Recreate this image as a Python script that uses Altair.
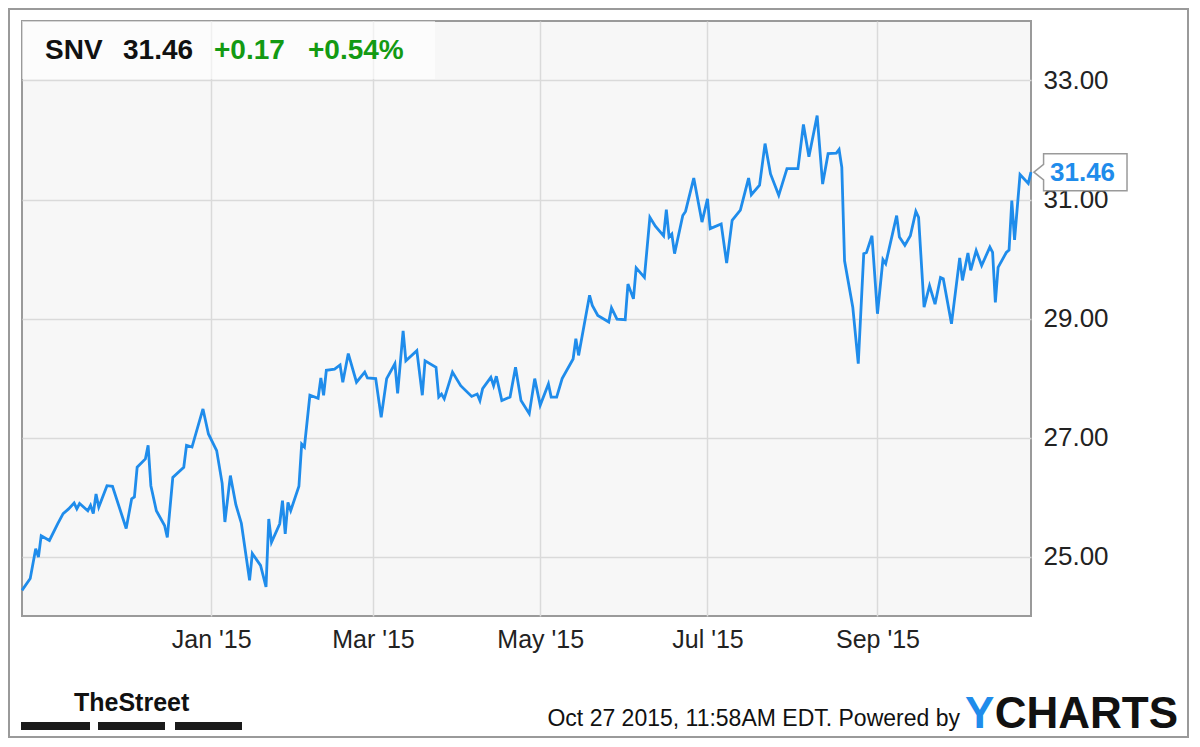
import altair as alt
import pandas as pd

# ---- data (SNV daily close, Oct 2014 - Oct 2015) ----
dates = [
    "2014-10-24", "2014-10-27", "2014-10-29", "2014-10-30", "2014-10-31",
    "2014-11-03", "2014-11-06", "2014-11-08", "2014-11-10", "2014-11-12",
    "2014-11-13", "2014-11-14", "2014-11-17", "2014-11-18", "2014-11-19",
    "2014-11-20", "2014-11-21", "2014-11-24", "2014-11-26", "2014-12-01",
    "2014-12-03", "2014-12-04", "2014-12-05", "2014-12-08", "2014-12-09",
    "2014-12-10", "2014-12-12", "2014-12-15", "2014-12-16", "2014-12-18",
    "2014-12-22", "2014-12-23", "2014-12-25", "2014-12-29", "2014-12-31",
    "2015-01-03", "2015-01-05", "2015-01-06", "2015-01-08", "2015-01-10",
    "2015-01-12", "2015-01-15", "2015-01-16", "2015-01-19", "2015-01-21",
    "2015-01-22", "2015-01-23", "2015-01-26", "2015-01-27", "2015-01-28",
    "2015-01-29", "2015-01-30", "2015-02-02", "2015-02-03", "2015-02-04",
    "2015-02-06", "2015-02-09", "2015-02-10", "2015-02-11", "2015-02-12",
    "2015-02-15", "2015-02-17", "2015-02-18", "2015-02-20", "2015-02-23",
    "2015-02-26", "2015-02-27", "2015-03-02", "2015-03-04", "2015-03-06",
    "2015-03-09", "2015-03-10", "2015-03-12", "2015-03-13", "2015-03-17",
    "2015-03-19", "2015-03-20", "2015-03-24", "2015-03-25", "2015-03-26",
    "2015-03-27", "2015-03-30", "2015-04-02", "2015-04-06", "2015-04-08",
    "2015-04-09", "2015-04-10", "2015-04-13", "2015-04-14", "2015-04-15",
    "2015-04-17", "2015-04-20", "2015-04-22", "2015-04-24", "2015-04-27",
    "2015-04-29", "2015-05-01", "2015-05-04", "2015-05-05", "2015-05-07",
    "2015-05-09", "2015-05-13", "2015-05-14", "2015-05-15", "2015-05-19",
    "2015-05-20", "2015-05-22", "2015-05-26", "2015-05-27", "2015-05-29",
    "2015-06-01", "2015-06-02", "2015-06-04", "2015-06-05", "2015-06-08",
    "2015-06-10", "2015-06-12", "2015-06-15", "2015-06-16", "2015-06-17",
    "2015-06-18", "2015-06-19", "2015-06-22", "2015-06-23", "2015-06-26",
    "2015-06-29", "2015-07-01", "2015-07-02", "2015-07-06", "2015-07-08",
    "2015-07-10", "2015-07-13", "2015-07-16", "2015-07-17", "2015-07-20",
    "2015-07-22", "2015-07-24", "2015-07-27", "2015-07-30", "2015-08-03",
    "2015-08-05", "2015-08-07", "2015-08-10", "2015-08-12", "2015-08-14",
    "2015-08-17", "2015-08-18", "2015-08-19", "2015-08-20", "2015-08-23",
    "2015-08-25", "2015-08-27", "2015-08-28", "2015-08-30", "2015-09-01",
    "2015-09-03", "2015-09-04", "2015-09-08", "2015-09-09", "2015-09-11",
    "2015-09-13", "2015-09-15", "2015-09-16", "2015-09-18", "2015-09-20",
    "2015-09-22", "2015-09-24", "2015-09-25", "2015-09-28", "2015-10-01",
    "2015-10-02", "2015-10-04", "2015-10-05", "2015-10-07", "2015-10-09",
    "2015-10-12", "2015-10-13", "2015-10-14", "2015-10-15", "2015-10-18",
    "2015-10-19", "2015-10-20", "2015-10-21", "2015-10-23", "2015-10-26",
    "2015-10-27",
]
prices = [
    24.43, 24.63, 25.13, 24.99, 25.35,
    25.27, 25.55, 25.72, 25.80, 25.90,
    25.80, 25.89, 25.77, 25.86, 25.72,
    26.05, 25.83, 26.19, 26.18, 25.47,
    25.97, 26.00, 26.50, 26.64, 26.87,
    26.19, 25.77, 25.52, 25.32, 26.33,
    26.50, 26.87, 26.84, 27.48, 27.06,
    26.78, 26.23, 25.58, 26.36, 25.87,
    25.56, 24.60, 25.05, 24.85, 24.49,
    25.63, 25.24, 25.55, 25.94, 25.38,
    25.91, 25.77, 26.18, 26.89, 26.84,
    27.71, 27.66, 28.00, 27.71, 28.13,
    28.15, 28.22, 27.93, 28.41, 27.93,
    28.10, 28.00, 27.99, 27.34, 27.99,
    28.24, 27.74, 28.79, 28.29, 28.46,
    27.71, 28.29, 28.18, 27.68, 27.73,
    27.65, 28.10, 27.87, 27.69, 27.73,
    27.62, 27.82, 28.01, 27.87, 28.03,
    27.62, 27.68, 28.18, 27.62, 27.40,
    27.99, 27.54, 27.90, 27.68, 27.68,
    27.99, 28.32, 28.66, 28.38, 29.39,
    29.22, 29.05, 28.94, 29.18, 28.99,
    28.98, 29.58, 29.33, 29.85, 29.69,
    30.70, 30.55, 30.39, 30.83, 30.37,
    30.42, 30.09, 30.73, 30.80, 31.36,
    30.62, 31.01, 30.51, 30.59, 29.93,
    30.65, 30.82, 31.36, 31.08, 31.24,
    31.94, 31.43, 31.07, 31.52, 31.52,
    32.26, 31.72, 32.41, 31.26, 31.77,
    31.78, 31.84, 31.54, 29.97, 29.19,
    28.24, 30.09, 30.11, 30.39, 29.08,
    29.99, 29.92, 30.73, 30.37, 30.23,
    30.39, 30.80, 30.70, 29.19, 29.55,
    29.24, 29.69, 29.67, 28.91, 30.02,
    29.64, 30.10, 29.81, 30.14, 29.89,
    30.20, 30.11, 29.27, 29.86, 30.11,
    30.15, 30.98, 30.32, 31.42, 31.27,
    31.46,
]
y_ticks = [25, 27, 29, 31, 33]
x_ticks = [(2015, 1), (2015, 3), (2015, 5), (2015, 7), (2015, 9)]
ticker = "SNV"
last_price = "31.46"
change_abs = "+0.17"
change_pct = "+0.54%"
footer = "Oct 27 2015, 11:58AM EDT. Powered by"

FONT = "Liberation Sans, Arial, Helvetica, sans-serif"
BLUE = "#1f8ceb"
GREEN = "#139a13"
GRID = "#dadada"

df = pd.DataFrame({"date": pd.to_datetime(dates), "price": prices})
last = df.tail(1).copy()
last["label"] = last["price"].map(lambda v: f"{v:.2f}")
dummy = pd.DataFrame({"a": [0]})

x_scale = alt.Scale(
    domain=[alt.DateTime(year=2014, month=10, date=24),
            alt.DateTime(year=2015, month=10, date=27)],
    nice=False,
)
y_scale = alt.Scale(domain=[24, 34], nice=False, zero=False)

x_enc = alt.X(
    "date:T", scale=x_scale,
    axis=alt.Axis(
        values=[alt.DateTime(year=y, month=m, date=1) for y, m in x_ticks],
        format="%b '%y", title=None, ticks=False, domain=False,
        labelFontSize=25, labelPadding=11, labelColor="#222222",
        gridColor=GRID, gridWidth=1.5, labelFont=FONT,
    ),
)
y_enc = alt.Y(
    "price:Q", scale=y_scale,
    axis=alt.Axis(
        orient="right", values=y_ticks, format=".2f", title=None,
        ticks=False, domain=False, labelFontSize=26, labelPadding=12,
        labelColor="#222222", gridColor=GRID, gridWidth=1.5, labelFont=FONT,
    ),
)

line = alt.Chart(df).mark_line(color=BLUE, strokeWidth=2.8).encode(x=x_enc, y=y_enc)

header_box = alt.Chart(dummy).mark_rect(fill="white", opacity=0.6).encode(
    x=alt.value(0), x2=alt.value(413), y=alt.value(0), y2=alt.value(58)
)


def label(text, x, y, size, color, weight="normal", align="left", font=FONT):
    return alt.Chart(dummy).mark_text(
        text=text, fontSize=size, font=font, fontWeight=weight, color=color,
        align=align, baseline="alphabetic",
    ).encode(x=alt.value(x), y=alt.value(y))


def bar(x1, x2, y1, y2, color="#1a1a1a"):
    return alt.Chart(dummy).mark_rect(color=color).encode(
        x=alt.value(x1), x2=alt.value(x2), y=alt.value(y1), y2=alt.value(y2)
    )


header = [
    label(ticker, 23, 38, 28, "#111111", "bold"),
    label(last_price, 101, 38, 28, "#111111", "bold"),
    label(change_abs, 192, 38, 28, GREEN, "bold"),
    label(change_pct, 286, 38, 28, GREEN, "bold"),
]

footer_layers = [
    label(footer, 938, 705, 23, "#111111", "normal", "right"),
    label("Y", 943, 707, 44, BLUE, "bold"),
    label("CHARTS", 1156, 707, 44, "#111111", "bold", "right"),
    label("TheStreet", 52, 690, 25, "#111111", "bold"),
    bar(-1, 68, 701, 709),
    bar(76, 143, 701, 709),
    bar(153, 220, 701, 709),
]

outer = alt.Chart(dummy).mark_rect(
    fillOpacity=0, stroke="#9a9a9a", strokeWidth=2
).encode(x=alt.value(-13), x2=alt.value(1166), y=alt.value(-12), y2=alt.value(716))

callout_path = "M0.16,0 L0.68,-0.42 L0.68,-1 L5.19,-1 L5.19,1 L0.68,1 L0.68,0.42 Z"
callout = alt.Chart(last).mark_point(
    shape=callout_path, size=1369, filled=True, fill="white", stroke="#9a9a9a",
    strokeWidth=1.5, opacity=1, fillOpacity=1, strokeOpacity=1,
).encode(x=alt.X("date:T", scale=x_scale), y=alt.Y("price:Q", scale=y_scale))
callout_text = alt.Chart(last).mark_text(
    align="left", baseline="middle", dx=19, dy=1, fontSize=26, fontWeight="bold",
    color=BLUE, font=FONT,
).encode(x=alt.X("date:T", scale=x_scale), y=alt.Y("price:Q", scale=y_scale),
         text="label:N")

chart = alt.layer(
    line, header_box, *header, callout, callout_text, *footer_layers, outer
).properties(
    width=1009, height=595,
    padding={"left": 14, "top": 13, "right": 158, "bottom": 123},
    autosize=alt.AutoSizeParams(type="none"),
).configure(font=FONT, background="white").configure_view(
    fill="#f7f7f7", stroke="#9a9a9a", strokeWidth=2
)

chart.save("out.html", embed_options={"renderer": "svg", "actions": False})
